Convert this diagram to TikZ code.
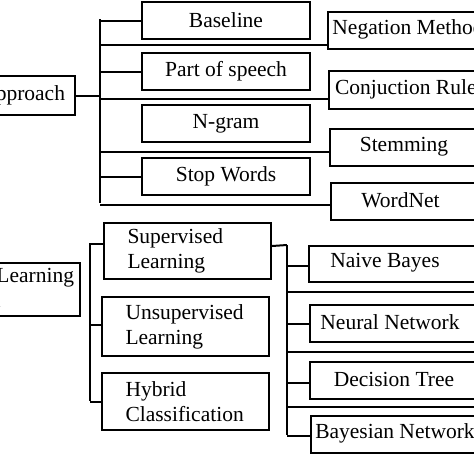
\documentclass[tikz,border=0pt]{standalone}
\usepackage{fontspec}
\setmainfont{Liberation Serif}
\begin{document}
\begin{tikzpicture}[x=1pt,y=1pt,line width=2pt,
  every node/.style={font=\fontsize{21.5}{25}\selectfont},
  box/.style={draw,line width=2pt,inner sep=0pt,anchor=north west},
  lbl/.style={inner sep=0pt},
  mlbox/.style={draw,line width=2pt,align=left,text width=120pt,inner xsep=23.5pt,inner ysep=0pt,anchor=north west}]
\useasboundingbox (0,0) rectangle (474,-474);
\clip (0,0) rectangle (474,-474);
\fill[white] (0,0) rectangle (474,-474);

% ---------- top part ----------
\node[draw,anchor=east,minimum height=39pt,inner xsep=10pt,inner ysep=0pt] (appr) at (76,-95.5) {Lexicon Based Approach};

\node[box,minimum width=168pt,minimum height=37pt] (base) at (141,-1) {};
\node[lbl] (baset) at (base.center) {Baseline};
\node[box,minimum width=168pt,minimum height=37pt] (pos) at (141,-52) {};
\node[lbl] (post) at (pos.center) {Part of speech};
\node[box,minimum width=168pt,minimum height=37pt] (ngram) at (141,-104) {};
\node[lbl] (ngramt) at (ngram.center) {N-gram};
\node[box,minimum width=168pt,minimum height=37pt] (stop) at (141,-157) {};
\node[lbl] (stopt) at (stop.center) {Stop Words};

\node[box,minimum width=180pt,minimum height=37pt] (neg) at (327,-11) {};
\node[lbl] (negt) at (408,-29.5) {Negation Method};
\node[box,minimum width=180pt,minimum height=38pt] (conj) at (328,-70) {};
\node[lbl] (conjt) at (410,-89) {Conjuction Rules};
\node[box,minimum width=180pt,minimum height=37pt] (stem) at (329,-128) {};
\node[lbl] (stemt) at (404,-146.5) {Stemming};
\node[box,minimum width=180pt,minimum height=37pt] (wn) at (330,-182) {};
\node[lbl] (wnt) at (400.5,-200.5) {WordNet};

\coordinate (sa) at (100,-19);
\coordinate (sb) at (100,-203);
\draw (sa) -- (sb);
\draw (appr.east) -- (appr.east -| sa);
\draw (base.west) -- (base.west -| sa);
\draw (pos.west) -- (pos.west -| sa);
\draw (stop.west) -- (stop.west -| sa);
\draw ([yshift=5pt]neg.south west) -- ([yshift=5pt]neg.south west -| sa);
\draw ([yshift=11pt]conj.south west) -- ([yshift=11pt]conj.south west -| sa);
\draw ([yshift=15pt]stem.south west) -- ([yshift=15pt]stem.south west -| sa);
\draw ([yshift=16pt]wn.south west) -- ([yshift=16pt]wn.south west -| sa);

% ---------- bottom part ----------
\node[draw,anchor=east,align=left,minimum height=53pt,inner xsep=6pt,inner ysep=0pt] (ml) at (81,-289.5) {Machine Learning\\Approach};

\node[mlbox,minimum height=56pt] (sup) at (103,-222) {Supervised\\Learning};
\node[mlbox,minimum height=59pt] (uns) at (101,-296) {Unsupervised\\Learning};
\node[mlbox,minimum height=57pt] (hyb) at (101,-372) {Hybrid\\Classification};

\coordinate (ma) at (90,-243);
\coordinate (mb) at (90,-401);
\draw (ma) -- (mb);
\draw ([yshift=7pt]sup.west) -- ([yshift=7pt]sup.west -| ma);
\draw ([yshift=2pt]uns.west) -- ([yshift=2pt]uns.west -| ma);
\draw (hyb.west) -- (hyb.west -| ma);

\node[box,minimum width=180pt,minimum height=36pt] (nb) at (308,-245) {};
\node[lbl] (nbt) at (385,-263) {Naive Bayes};
\node[box,minimum width=180pt,minimum height=37pt] (nn) at (309,-304) {};
\node[lbl] (nnt) at (390,-322.5) {Neural Network};
\node[box,minimum width=180pt,minimum height=37pt] (dt) at (309,-361) {};
\node[lbl] (dtt) at (394,-379.5) {Decision Tree};
\node[box,minimum width=180pt,minimum height=37pt] (bn) at (310,-415) {};
\node[lbl] (bnt) at (395,-433.5) {Bayesian Network};

\coordinate (ta) at (287,-245);
\coordinate (tb) at (287,-435);
\draw ([yshift=5pt]sup.east) -- (ta);
\draw (ta) -- (tb);
\draw ([yshift=-2pt]nb.west) -- ([yshift=-2pt]nb.west -| ta);
\draw (nn.west) -- (nn.west -| ta);
\draw ([yshift=-2.5pt]dt.west) -- ([yshift=-2.5pt]dt.west -| ta);
\draw ([yshift=-1.5pt]bn.west) -- ([yshift=-1.5pt]bn.west -| ta);
\coordinate (r1) at (490,-292);
\coordinate (r2) at (490,-352);
\coordinate (r3) at (490,-407);
\draw (r1 -| ta) -- (r1);
\draw (r2 -| ta) -- (r2);
\draw (r3 -| ta) -- (r3);
\end{tikzpicture}
\end{document}
